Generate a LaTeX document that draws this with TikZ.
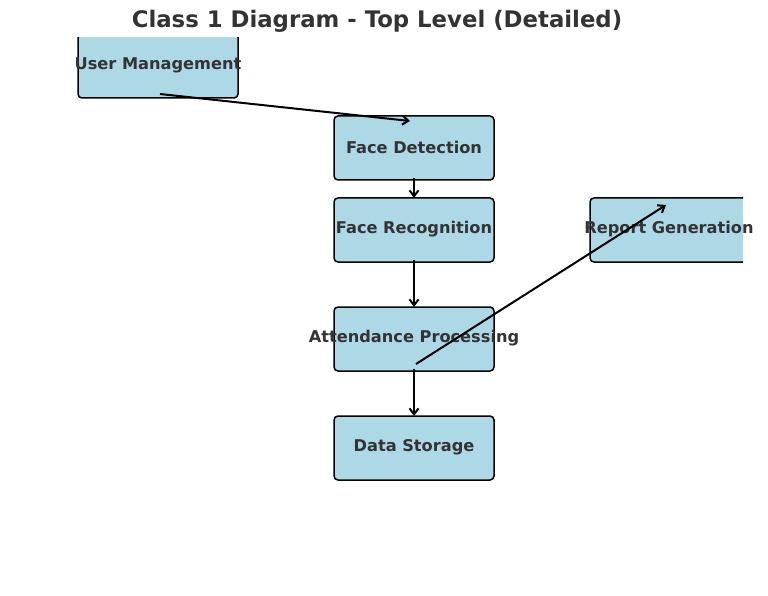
\documentclass[tikz,border=0pt]{standalone}
\usepackage{fontspec}
\setmainfont{DejaVu Sans}
\usetikzlibrary{arrows.meta}
\definecolor{lb}{HTML}{ADD8E6}
\definecolor{tx}{HTML}{333333}
\begin{document}
\begin{tikzpicture}[x=1pt,y=-1pt,
  box/.style={draw=black,line width=1.5pt,fill=lb,rounded corners=4pt},
  lbl/.style={text=tx,font=\fontsize{16.2}{18}\selectfont\bfseries,inner sep=0},
  arr/.style={-{Straight Barb[length=6pt,width=9pt]},line width=2pt}]
\useasboundingbox (0,0) rectangle (768,596);
\node[text=tx,font=\fontsize{22.8}{26}\selectfont\bfseries] (title) at (377,21) {Class 1 Diagram - Top Level (Detailed)};
\begin{scope}
\clip (0,38) rectangle (743,596);
\draw[box] (78,20) rectangle (238,98);
\draw[box] (334,116) rectangle (494,180);
\draw[box] (334,198) rectangle (494,262);
\draw[box] (334,307) rectangle (494,371);
\draw[box] (334,416) rectangle (494,480);
\draw[box] (590,198) rectangle (760,262);
\end{scope}
\node[lbl] (um) at (158,65) {User Management};
\node[lbl] (fd) at (414,147) {Face Detection};
\node[lbl] (fr) at (414,229) {Face Recognition};
\node[lbl] (ap) at (414,338) {Attendance Processing};
\node[lbl] (ds) at (414,447) {Data Storage};
\node[lbl] (rg) at (669,229) {Report Generation};
\coordinate (a1) at (160,94); \coordinate (b1) at (410,121);
\coordinate (a2) at (414,178); \coordinate (b2) at (414,198);
\coordinate (a3) at (414,260); \coordinate (b3) at (414,307);
\coordinate (a4) at (414,369); \coordinate (b4) at (414,416);
\coordinate (a5) at (416,364); \coordinate (b5) at (666,205);
\draw[arr] (a1) -- (b1);
\draw[arr] (a2) -- (b2);
\draw[arr] (a3) -- (b3);
\draw[arr] (a4) -- (b4);
\draw[arr] (a5) -- (b5);
\end{tikzpicture}
\end{document}
